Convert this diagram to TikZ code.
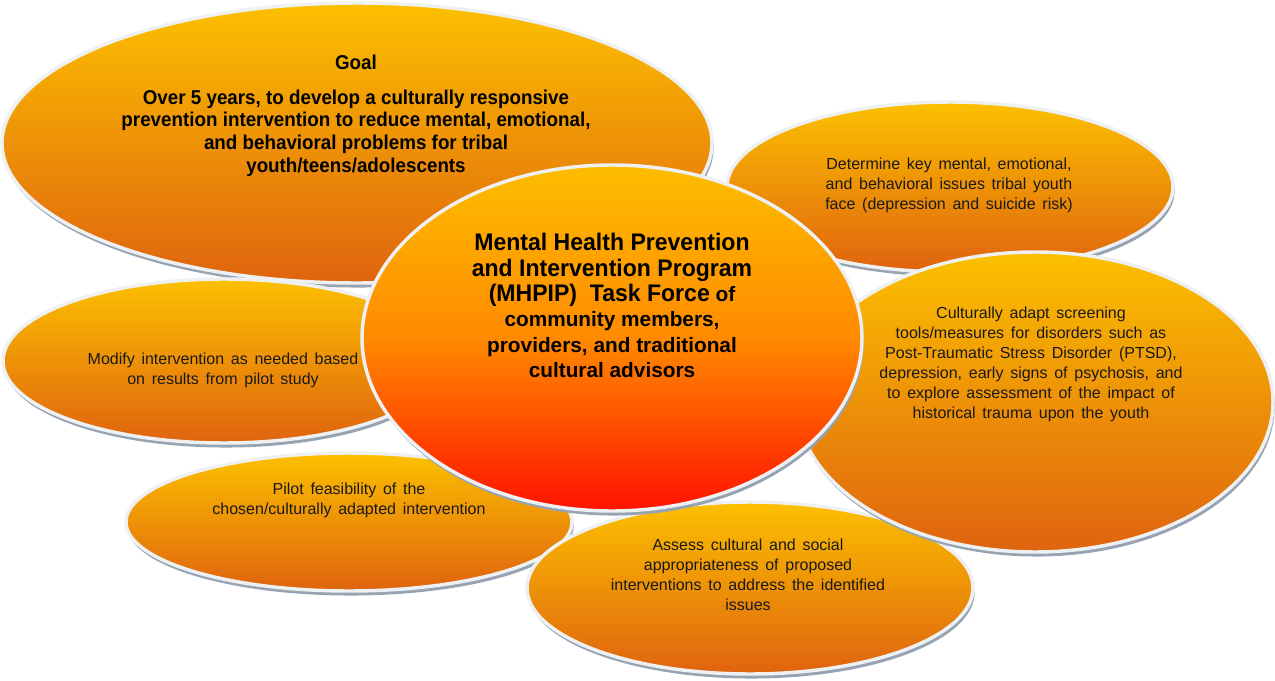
\documentclass[tikz,border=0pt]{standalone}
\usepackage{fontspec}
\setmainfont{Liberation Sans}
\newfontfamily\goalfont[FakeStretch=0.94]{Liberation Sans}
\newfontfamily\hubfont[FakeStretch=0.96]{Liberation Sans}
\usetikzlibrary{shapes.geometric,shadows}
\newcommand\smallfnt{\fontsize{12}{15}\selectfont\spaceskip=0.42em plus 0.1em\relax}
\definecolor{otop}{HTML}{FCC000}
\definecolor{obot}{HTML}{DF630F}
\definecolor{ctop}{HTML}{FDBE00}
\definecolor{cmid}{HTML}{FF8A00}
\definecolor{cbot}{HTML}{FF1200}
\definecolor{rim}{HTML}{EEF0F2}
\definecolor{shad}{HTML}{95A3B3}
\tikzset{
  bubble/.style={ellipse, inner sep=0pt, draw=rim, line width=2.6pt,
    top color=otop, bottom color=obot,
    drop shadow={shadow xshift=1.2pt, shadow yshift=-3.4pt, fill=shad, opacity=1}},
  hub/.style={bubble, top color=ctop, bottom color=cbot, middle color=cmid},
  small/.style={align=center, font=\smallfnt, text=black!90},
}
\begin{document}
\begin{tikzpicture}[x=0.75pt,y=-0.75pt]
\useasboundingbox (0,0) rectangle (1275,681);
% ellipses (px: center, 2rx, 2ry)
\node[bubble, minimum width=710*0.75pt, minimum height=280*0.75pt] (goal) at (357,143) {};
\node[bubble, minimum width=442*0.75pt, minimum height=164*0.75pt] (modify) at (224,361) {};
\node[bubble, minimum width=446*0.75pt, minimum height=138*0.75pt] (pilot) at (349,522) {};
\node[bubble, minimum width=446*0.75pt, minimum height=172*0.75pt] (assess) at (750,588) {};
\node[bubble, minimum width=446*0.75pt, minimum height=170*0.75pt] (determine) at (950,187) {};
\node[bubble, minimum width=476*0.75pt, minimum height=300*0.75pt] (adapt) at (1035,402) {};
\node[hub, minimum width=500*0.75pt, minimum height=346*0.75pt] (center) at (612,338) {};
% texts
\node[align=center, font=\goalfont\bfseries\fontsize{15}{17}\selectfont] (goaltxt) at (356,115.5)
  {Goal\\[9pt]Over 5 years, to develop a culturally responsive\\prevention intervention to reduce mental, emotional,\\and behavioral problems for tribal\\youth/teens/adolescents};
\node[align=center, font=\bfseries\fontsize{15.6}{19}\selectfont] (centertxt) at (612,305.5)
  {{\hubfont\fontsize{18}{20.5}\selectfont Mental Health Prevention}\\{\hubfont\fontsize{18}{20.5}\selectfont and Intervention Program}\\{\hubfont\fontsize{18}{20.5}\selectfont (MHPIP)\ \ Task Force} of\\community members,\\providers, and traditional\\cultural advisors};
\node[small] (dettxt) at (949,185)
  {Determine key mental, emotional,\\and behavioral issues tribal youth\\face (depression and suicide risk)};
\node[small] (adapttxt) at (1031,364)
  {Culturally adapt screening\\tools/measures for disorders such as\\Post-Traumatic Stress Disorder (PTSD),\\depression, early signs of psychosis, and\\to explore assessment of the impact of\\historical trauma upon the youth};
\node[small] (modtxt) at (223,370.5)
  {Modify intervention as needed based\\on results from pilot study};
\node[small] (pilottxt) at (349,500)
  {Pilot feasibility of the\\chosen/culturally adapted intervention};
\node[small] (assesstxt) at (748,575)
  {Assess cultural and social\\appropriateness of proposed\\interventions to address the identified\\issues};
\end{tikzpicture}
\end{document}
